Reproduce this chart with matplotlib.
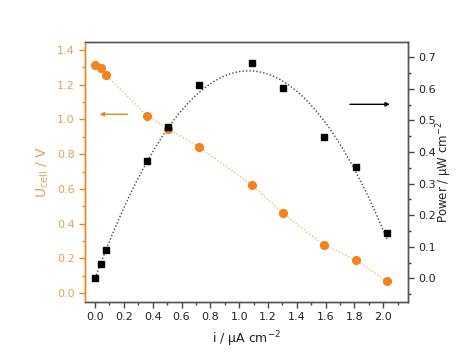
import numpy as np
import matplotlib
matplotlib.use("Agg")
import matplotlib.pyplot as plt
from matplotlib.ticker import MultipleLocator

# Data
current = [0.0, 0.04, 0.074, 0.363, 0.509, 0.724, 1.087, 1.304, 1.59, 1.808, 2.025]
voltage = [1.313, 1.298, 1.256, 1.021, 0.945, 0.841, 0.624, 0.459, 0.276, 0.190, 0.067]
power = [0.0, 0.045, 0.089, 0.372, 0.480, 0.611, 0.682, 0.603, 0.449, 0.353, 0.142]

ORANGE = "#F0841E"
ORANGE_TXT = "#E2A15A"

fig = plt.figure(figsize=(4.74, 3.63), dpi=100)
ax = fig.add_axes([0.1793, 0.168, 0.681, 0.716])
ax2 = ax.twinx()

# Voltage
ax.plot(current, voltage, linestyle=(0, (1, 1.5)), color="#F3B878", lw=1.0, zorder=2)
ax.plot(current, voltage, "o", color=ORANGE, ms=5.6, mec=ORANGE, zorder=3, linestyle="none")

# Power fit: P = a*i + b*i^2 (least squares, through origin)
ci = np.asarray(current)
A = np.column_stack([ci, ci ** 2])
(a, b), *_ = np.linalg.lstsq(A, np.asarray(power), rcond=None)
xf = np.linspace(0.0, 2.03, 200)
ax2.plot(xf, a * xf + b * xf ** 2, linestyle=(0, (1, 1.5)), color="#444444", lw=1.0)
ax2.plot(current, power, "s", color="black", ms=5.0, linestyle="none")

ax.set_xlim(-0.07, 2.17)
ax.set_ylim(-0.052, 1.446)
ax2.set_ylim(-0.075, 0.748)

ax.xaxis.set_major_locator(MultipleLocator(0.2))
ax.xaxis.set_minor_locator(MultipleLocator(0.1))
ax.yaxis.set_major_locator(MultipleLocator(0.2))
ax.yaxis.set_minor_locator(MultipleLocator(0.1))
ax2.yaxis.set_major_locator(MultipleLocator(0.1))
ax2.yaxis.set_minor_locator(MultipleLocator(0.05))

for a_ in (ax, ax2):
    for s in a_.spines.values():
        s.set_color("#555555")
        s.set_linewidth(1.0)
ax2.spines["left"].set_color(ORANGE)
ax.spines["left"].set_color(ORANGE)

ax.tick_params(axis="x", which="major", direction="out", length=4, width=1, colors="#444444", labelcolor="#222222", labelsize=8)
ax.tick_params(axis="x", which="minor", direction="out", length=2, width=1, colors="#444444")
ax.tick_params(axis="y", which="major", direction="out", length=4, width=1, colors=ORANGE, labelcolor=ORANGE_TXT, labelsize=8)
ax.tick_params(axis="y", which="minor", direction="out", length=2, width=1, colors=ORANGE)
ax2.tick_params(axis="y", which="major", direction="out", length=4, width=1, colors="#444444", labelcolor="#222222", labelsize=8)
ax2.tick_params(axis="y", which="minor", direction="out", length=2, width=1, colors="#444444")

ax.set_xticks([0.0, 0.2, 0.4, 0.6, 0.8, 1.0, 1.2, 1.4, 1.6, 1.8, 2.0])
ax.set_xticklabels(["0.0", "0.2", "0.4", "0.6", "0.8", "1.0", "1.2", "1.4", "1.6", "1.8", "2.0"])

ax.set_xlabel(r"i / $\mathregular{\mu}$A cm$^{-2}$", fontsize=9, color="#222222", labelpad=5)
ax.set_ylabel(r"U$_{\mathregular{cell}}$ / V", fontsize=10, color=ORANGE_TXT, labelpad=4)
ax2.set_ylabel(r"Power / $\mathregular{\mu}$W cm$^{-2}$", fontsize=8.5, color="#222222", labelpad=-1)

# Arrows
ax.annotate("", xy=(0.012, 1.03), xytext=(0.243, 1.03),
            arrowprops=dict(arrowstyle="-|>", color=ORANGE, lw=1.0, mutation_scale=6))
ax2.annotate("", xy=(2.065, 0.551), xytext=(1.75, 0.551),
             arrowprops=dict(arrowstyle="-|>", color="black", lw=1.0, mutation_scale=6))

fig.savefig("out.png", dpi=100)
